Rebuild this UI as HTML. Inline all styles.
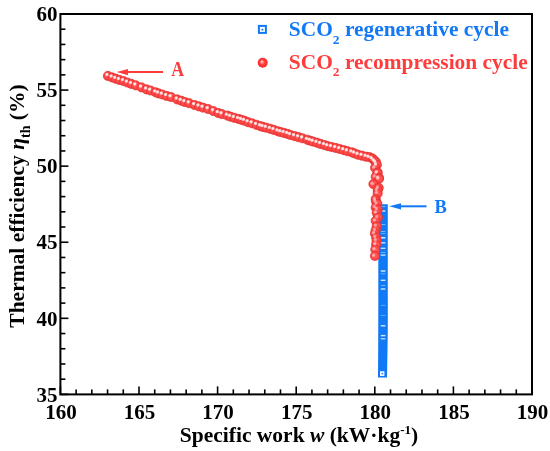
<!DOCTYPE html>
<html><head><meta charset="utf-8"><style>
html,body{margin:0;padding:0;background:#fff;}
svg{display:block;}
text{font-family:"Liberation Serif","Times New Roman",serif;font-weight:bold;}
</style></head><body>
<svg width="550" height="451" viewBox="0 0 550 451">
<defs>
<radialGradient id="rg" cx="0.5" cy="0.5" r="0.5">
<stop offset="0" stop-color="#ff6060"/>
<stop offset="0.7" stop-color="#ff4a4a"/>
<stop offset="0.88" stop-color="#f83e3e"/>
<stop offset="1" stop-color="#e23232"/>
</radialGradient>
<radialGradient id="hg" cx="0.5" cy="0.5" r="0.5">
<stop offset="0" stop-color="#fff" stop-opacity="0.95"/>
<stop offset="0.5" stop-color="#fff" stop-opacity="0.75"/>
<stop offset="1" stop-color="#fff" stop-opacity="0"/>
</radialGradient>
<radialGradient id="lg" cx="0.5" cy="0.5" r="0.5" fx="0.4" fy="0.38">
<stop offset="0" stop-color="#ffe0e0"/>
<stop offset="0.25" stop-color="#ff8a8a"/>
<stop offset="0.5" stop-color="#ff3c3c"/>
<stop offset="1" stop-color="#f02c2c"/>
</radialGradient>
<g id="rc"><circle cx="0" cy="0" r="4.6" fill="url(#rg)" stroke="#e83434" stroke-width="0.7"/></g>
<g id="hc"><circle cx="0" cy="0" r="2.2" fill="url(#hg)"/></g>
</defs>
<rect width="550" height="451" fill="#fff"/>
<!-- blue column -->
<polygon points="378.3,204.3 387.8,204.3 387.8,330 387.5,350 387,377.6 378,377.6 378.2,345 378.3,300" fill="#1279f6"/>
<rect x="380.8" y="206.10" width="4.6" height="1.0" fill="#fff" opacity="0.45"/>
<rect x="380.8" y="210.30" width="4.6" height="1.4" fill="#fff" opacity="0.8"/>
<rect x="380.8" y="224.10" width="4.6" height="1.0" fill="#fff" opacity="0.45"/>
<rect x="380.8" y="231.00" width="4.6" height="1.0" fill="#fff" opacity="0.45"/>
<rect x="380.8" y="233.20" width="4.6" height="0.8" fill="#fff" opacity="0.45"/>
<rect x="380.8" y="237.00" width="4.6" height="1.6" fill="#fff" opacity="0.8"/>
<rect x="380.8" y="242.10" width="4.6" height="1.4" fill="#fff" opacity="0.8"/>
<rect x="380.8" y="247.65" width="4.6" height="1.3" fill="#fff" opacity="0.8"/>
<rect x="380.8" y="252.05" width="4.6" height="0.9" fill="#fff" opacity="0.45"/>
<rect x="380.8" y="254.45" width="4.6" height="1.3" fill="#fff" opacity="0.8"/>
<rect x="380.8" y="270.25" width="4.6" height="1.5" fill="#fff" opacity="0.8"/>
<rect x="380.8" y="273.35" width="4.6" height="0.9" fill="#fff" opacity="0.45"/>
<rect x="380.8" y="279.60" width="4.6" height="1.4" fill="#fff" opacity="0.8"/>
<rect x="380.8" y="285.05" width="4.6" height="0.9" fill="#fff" opacity="0.45"/>
<rect x="380.8" y="288.30" width="4.6" height="1.4" fill="#fff" opacity="0.8"/>
<rect x="380.8" y="304.95" width="4.6" height="0.7" fill="#fff" opacity="0.45"/>
<rect x="380.8" y="315.25" width="4.6" height="0.7" fill="#fff" opacity="0.45"/>
<rect x="380.8" y="325.10" width="4.6" height="1.4" fill="#fff" opacity="0.8"/>
<rect x="380.8" y="334.90" width="4.6" height="1.4" fill="#fff" opacity="0.8"/>
<rect x="380.8" y="338.20" width="4.6" height="1.2" fill="#fff" opacity="0.8"/>
<rect x="380" y="371.3" width="4.4" height="4.6" fill="#fff"/>
<rect x="381.5" y="372.9" width="1.7" height="1.4" fill="#1279f6"/>
<!-- red -->
<use href="#rc" x="107.9" y="75.9"/>
<use href="#rc" x="112.1" y="77.4"/>
<use href="#rc" x="115.7" y="78.7"/>
<use href="#rc" x="119.4" y="79.9"/>
<use href="#rc" x="123.4" y="81.0"/>
<use href="#rc" x="127.4" y="82.5"/>
<use href="#rc" x="131.4" y="83.9"/>
<use href="#rc" x="135.7" y="85.3"/>
<use href="#rc" x="141.5" y="87.4"/>
<use href="#rc" x="146.6" y="89.4"/>
<use href="#rc" x="150.6" y="90.5"/>
<use href="#rc" x="155.7" y="92.3"/>
<use href="#rc" x="158.6" y="93.4"/>
<use href="#rc" x="162.3" y="94.5"/>
<use href="#rc" x="166.6" y="95.9"/>
<use href="#rc" x="171.0" y="97.0"/>
<use href="#rc" x="177.2" y="99.4"/>
<use href="#rc" x="181.2" y="100.7"/>
<use href="#rc" x="184.8" y="102.0"/>
<use href="#rc" x="189.2" y="103.2"/>
<use href="#rc" x="194.6" y="105.0"/>
<use href="#rc" x="199.0" y="106.4"/>
<use href="#rc" x="203.0" y="107.6"/>
<use href="#rc" x="208.1" y="109.0"/>
<use href="#rc" x="213.4" y="111.1"/>
<use href="#rc" x="218.3" y="113.0"/>
<use href="#rc" x="221.9" y="114.1"/>
<use href="#rc" x="227.4" y="115.6"/>
<use href="#rc" x="230.6" y="116.7"/>
<use href="#rc" x="234.3" y="117.8"/>
<use href="#rc" x="238.6" y="118.9"/>
<use href="#rc" x="241.5" y="119.8"/>
<use href="#rc" x="244.5" y="120.7"/>
<use href="#rc" x="248.1" y="122.2"/>
<use href="#rc" x="252.1" y="123.3"/>
<use href="#rc" x="256.5" y="124.8"/>
<use href="#rc" x="260.5" y="126.2"/>
<use href="#rc" x="263.0" y="126.9"/>
<use href="#rc" x="266.3" y="127.7"/>
<use href="#rc" x="270.3" y="128.8"/>
<use href="#rc" x="273.9" y="129.9"/>
<use href="#rc" x="277.9" y="131.3"/>
<use href="#rc" x="280.8" y="132.1"/>
<use href="#rc" x="284.1" y="132.9"/>
<use href="#rc" x="287.7" y="133.9"/>
<use href="#rc" x="290.6" y="135.0"/>
<use href="#rc" x="294.6" y="136.1"/>
<use href="#rc" x="298.6" y="137.2"/>
<use href="#rc" x="302.6" y="138.3"/>
<use href="#rc" x="307.4" y="139.8"/>
<use href="#rc" x="310.3" y="140.7"/>
<use href="#rc" x="313.2" y="141.6"/>
<use href="#rc" x="317.0" y="142.7"/>
<use href="#rc" x="320.6" y="143.9"/>
<use href="#rc" x="324.5" y="145.0"/>
<use href="#rc" x="327.7" y="146.1"/>
<use href="#rc" x="331.4" y="146.9"/>
<use href="#rc" x="335.7" y="147.9"/>
<use href="#rc" x="339.7" y="149.0"/>
<use href="#rc" x="343.7" y="150.1"/>
<use href="#rc" x="347.4" y="151.2"/>
<use href="#rc" x="351.7" y="152.3"/>
<use href="#rc" x="354.6" y="153.4"/>
<use href="#rc" x="358.0" y="154.7"/>
<use href="#rc" x="362.0" y="155.7"/>
<use href="#rc" x="366.0" y="156.7"/>
<use href="#rc" x="369.4" y="157.1"/>
<use href="#rc" x="372.4" y="158.4"/>
<use href="#rc" x="374.4" y="160.4"/>
<use href="#rc" x="376.0" y="162.1"/>
<use href="#rc" x="376.9" y="164.8"/>
<use href="#rc" x="375.0" y="167.8"/>
<use href="#rc" x="377.7" y="172.4"/>
<use href="#rc" x="377.4" y="173.1"/>
<use href="#rc" x="375.7" y="176.8"/>
<use href="#rc" x="379.0" y="177.8"/>
<use href="#rc" x="379.0" y="178.8"/>
<use href="#rc" x="373.4" y="184.1"/>
<use href="#rc" x="378.7" y="187.8"/>
<use href="#rc" x="377.7" y="190.3"/>
<use href="#rc" x="377.7" y="193.4"/>
<use href="#rc" x="375.7" y="199.1"/>
<use href="#rc" x="376.0" y="201.4"/>
<use href="#rc" x="377.4" y="203.8"/>
<use href="#rc" x="375.7" y="207.4"/>
<use href="#rc" x="377.7" y="209.4"/>
<use href="#rc" x="376.7" y="212.8"/>
<use href="#rc" x="378.0" y="217.4"/>
<use href="#rc" x="375.7" y="220.8"/>
<use href="#rc" x="376.7" y="226.1"/>
<use href="#rc" x="375.7" y="230.2"/>
<use href="#rc" x="374.9" y="233.5"/>
<use href="#rc" x="376.1" y="237.3"/>
<use href="#rc" x="376.6" y="240.7"/>
<use href="#rc" x="376.1" y="244.5"/>
<use href="#rc" x="375.3" y="249.5"/>
<use href="#rc" x="374.9" y="255.9"/>
<use href="#hc" x="106.9" y="74.5"/>
<use href="#hc" x="111.1" y="76.0"/>
<use href="#hc" x="114.7" y="77.3"/>
<use href="#hc" x="118.4" y="78.5"/>
<use href="#hc" x="122.4" y="79.6"/>
<use href="#hc" x="126.4" y="81.1"/>
<use href="#hc" x="130.4" y="82.5"/>
<use href="#hc" x="134.7" y="83.9"/>
<use href="#hc" x="140.5" y="86.0"/>
<use href="#hc" x="145.6" y="88.0"/>
<use href="#hc" x="149.6" y="89.1"/>
<use href="#hc" x="154.7" y="90.9"/>
<use href="#hc" x="157.6" y="92.0"/>
<use href="#hc" x="161.3" y="93.1"/>
<use href="#hc" x="165.6" y="94.5"/>
<use href="#hc" x="170.0" y="95.6"/>
<use href="#hc" x="176.2" y="98.0"/>
<use href="#hc" x="180.2" y="99.3"/>
<use href="#hc" x="183.8" y="100.6"/>
<use href="#hc" x="188.2" y="101.8"/>
<use href="#hc" x="193.6" y="103.6"/>
<use href="#hc" x="198.0" y="105.0"/>
<use href="#hc" x="202.0" y="106.2"/>
<use href="#hc" x="207.1" y="107.6"/>
<use href="#hc" x="212.4" y="109.7"/>
<use href="#hc" x="217.3" y="111.6"/>
<use href="#hc" x="220.9" y="112.7"/>
<use href="#hc" x="226.4" y="114.2"/>
<use href="#hc" x="229.6" y="115.3"/>
<use href="#hc" x="233.3" y="116.4"/>
<use href="#hc" x="237.6" y="117.5"/>
<use href="#hc" x="240.5" y="118.4"/>
<use href="#hc" x="243.5" y="119.3"/>
<use href="#hc" x="247.1" y="120.8"/>
<use href="#hc" x="251.1" y="121.9"/>
<use href="#hc" x="255.5" y="123.4"/>
<use href="#hc" x="259.5" y="124.8"/>
<use href="#hc" x="262.0" y="125.5"/>
<use href="#hc" x="265.3" y="126.3"/>
<use href="#hc" x="269.3" y="127.4"/>
<use href="#hc" x="272.9" y="128.5"/>
<use href="#hc" x="276.9" y="129.9"/>
<use href="#hc" x="279.8" y="130.7"/>
<use href="#hc" x="283.1" y="131.5"/>
<use href="#hc" x="286.7" y="132.5"/>
<use href="#hc" x="289.6" y="133.6"/>
<use href="#hc" x="293.6" y="134.7"/>
<use href="#hc" x="297.6" y="135.8"/>
<use href="#hc" x="301.6" y="136.9"/>
<use href="#hc" x="306.4" y="138.4"/>
<use href="#hc" x="309.3" y="139.3"/>
<use href="#hc" x="312.2" y="140.2"/>
<use href="#hc" x="316.0" y="141.3"/>
<use href="#hc" x="319.6" y="142.5"/>
<use href="#hc" x="323.5" y="143.6"/>
<use href="#hc" x="326.7" y="144.7"/>
<use href="#hc" x="330.4" y="145.5"/>
<use href="#hc" x="334.7" y="146.5"/>
<use href="#hc" x="338.7" y="147.6"/>
<use href="#hc" x="342.7" y="148.7"/>
<use href="#hc" x="346.4" y="149.8"/>
<use href="#hc" x="350.7" y="150.9"/>
<use href="#hc" x="353.6" y="152.0"/>
<use href="#hc" x="357.0" y="153.3"/>
<use href="#hc" x="361.0" y="154.3"/>
<use href="#hc" x="365.0" y="155.3"/>
<use href="#hc" x="368.0" y="156.3"/>
<use href="#hc" x="371.0" y="157.6"/>
<use href="#hc" x="373.0" y="159.6"/>
<use href="#hc" x="374.6" y="161.3"/>
<use href="#hc" x="375.5" y="164.0"/>
<use href="#hc" x="373.6" y="167.0" opacity="0.6"/>
<use href="#hc" x="376.3" y="171.6" opacity="0.6"/>
<use href="#hc" x="376.0" y="172.3" opacity="0.6"/>
<use href="#hc" x="374.3" y="176.0" opacity="0.6"/>
<use href="#hc" x="377.6" y="177.0" opacity="0.6"/>
<use href="#hc" x="377.6" y="178.0" opacity="0.6"/>
<use href="#hc" x="372.0" y="183.3" opacity="0.6"/>
<use href="#hc" x="377.3" y="187.0" opacity="0.6"/>
<use href="#hc" x="376.3" y="189.5" opacity="0.6"/>
<use href="#hc" x="376.3" y="192.6" opacity="0.6"/>
<use href="#hc" x="374.3" y="198.3" opacity="0.6"/>
<use href="#hc" x="374.6" y="200.6" opacity="0.6"/>
<use href="#hc" x="376.0" y="203.0" opacity="0.6"/>
<use href="#hc" x="374.3" y="206.6" opacity="0.6"/>
<use href="#hc" x="376.3" y="208.6" opacity="0.6"/>
<use href="#hc" x="375.3" y="212.0" opacity="0.6"/>
<use href="#hc" x="376.6" y="216.6" opacity="0.6"/>
<use href="#hc" x="374.3" y="220.0" opacity="0.6"/>
<use href="#hc" x="375.3" y="225.3" opacity="0.6"/>
<use href="#hc" x="374.3" y="229.4" opacity="0.6"/>
<use href="#hc" x="373.5" y="232.7" opacity="0.6"/>
<use href="#hc" x="374.7" y="236.5" opacity="0.6"/>
<use href="#hc" x="375.2" y="239.9" opacity="0.6"/>
<use href="#hc" x="374.7" y="243.7" opacity="0.6"/>
<use href="#hc" x="373.9" y="248.7" opacity="0.6"/>
<use href="#hc" x="373.5" y="255.1" opacity="0.6"/>
<!-- frame -->
<rect x="60.4" y="14.0" width="471.6" height="380.4" fill="none" stroke="#000" stroke-width="2"/>
<g stroke="#000" stroke-width="1.6">
<line x1="60.40" y1="394.4" x2="60.40" y2="386.4"/>
<line x1="76.12" y1="394.4" x2="76.12" y2="389.4"/>
<line x1="91.84" y1="394.4" x2="91.84" y2="389.4"/>
<line x1="107.56" y1="394.4" x2="107.56" y2="389.4"/>
<line x1="123.28" y1="394.4" x2="123.28" y2="389.4"/>
<line x1="139.00" y1="394.4" x2="139.00" y2="386.4"/>
<line x1="154.72" y1="394.4" x2="154.72" y2="389.4"/>
<line x1="170.44" y1="394.4" x2="170.44" y2="389.4"/>
<line x1="186.16" y1="394.4" x2="186.16" y2="389.4"/>
<line x1="201.88" y1="394.4" x2="201.88" y2="389.4"/>
<line x1="217.60" y1="394.4" x2="217.60" y2="386.4"/>
<line x1="233.32" y1="394.4" x2="233.32" y2="389.4"/>
<line x1="249.04" y1="394.4" x2="249.04" y2="389.4"/>
<line x1="264.76" y1="394.4" x2="264.76" y2="389.4"/>
<line x1="280.48" y1="394.4" x2="280.48" y2="389.4"/>
<line x1="296.20" y1="394.4" x2="296.20" y2="386.4"/>
<line x1="311.92" y1="394.4" x2="311.92" y2="389.4"/>
<line x1="327.64" y1="394.4" x2="327.64" y2="389.4"/>
<line x1="343.36" y1="394.4" x2="343.36" y2="389.4"/>
<line x1="359.08" y1="394.4" x2="359.08" y2="389.4"/>
<line x1="374.80" y1="394.4" x2="374.80" y2="386.4"/>
<line x1="390.52" y1="394.4" x2="390.52" y2="389.4"/>
<line x1="406.24" y1="394.4" x2="406.24" y2="389.4"/>
<line x1="421.96" y1="394.4" x2="421.96" y2="389.4"/>
<line x1="437.68" y1="394.4" x2="437.68" y2="389.4"/>
<line x1="453.40" y1="394.4" x2="453.40" y2="386.4"/>
<line x1="469.12" y1="394.4" x2="469.12" y2="389.4"/>
<line x1="484.84" y1="394.4" x2="484.84" y2="389.4"/>
<line x1="500.56" y1="394.4" x2="500.56" y2="389.4"/>
<line x1="516.28" y1="394.4" x2="516.28" y2="389.4"/>
<line x1="532.00" y1="394.4" x2="532.00" y2="386.4"/>
<line x1="60.4" y1="394.40" x2="68.4" y2="394.40"/>
<line x1="60.4" y1="379.18" x2="65.4" y2="379.18"/>
<line x1="60.4" y1="363.97" x2="65.4" y2="363.97"/>
<line x1="60.4" y1="348.75" x2="65.4" y2="348.75"/>
<line x1="60.4" y1="333.54" x2="65.4" y2="333.54"/>
<line x1="60.4" y1="318.32" x2="68.4" y2="318.32"/>
<line x1="60.4" y1="303.10" x2="65.4" y2="303.10"/>
<line x1="60.4" y1="287.89" x2="65.4" y2="287.89"/>
<line x1="60.4" y1="272.67" x2="65.4" y2="272.67"/>
<line x1="60.4" y1="257.46" x2="65.4" y2="257.46"/>
<line x1="60.4" y1="242.24" x2="68.4" y2="242.24"/>
<line x1="60.4" y1="227.02" x2="65.4" y2="227.02"/>
<line x1="60.4" y1="211.81" x2="65.4" y2="211.81"/>
<line x1="60.4" y1="196.59" x2="65.4" y2="196.59"/>
<line x1="60.4" y1="181.38" x2="65.4" y2="181.38"/>
<line x1="60.4" y1="166.16" x2="68.4" y2="166.16"/>
<line x1="60.4" y1="150.94" x2="65.4" y2="150.94"/>
<line x1="60.4" y1="135.73" x2="65.4" y2="135.73"/>
<line x1="60.4" y1="120.51" x2="65.4" y2="120.51"/>
<line x1="60.4" y1="105.30" x2="65.4" y2="105.30"/>
<line x1="60.4" y1="90.08" x2="68.4" y2="90.08"/>
<line x1="60.4" y1="74.86" x2="65.4" y2="74.86"/>
<line x1="60.4" y1="59.65" x2="65.4" y2="59.65"/>
<line x1="60.4" y1="44.43" x2="65.4" y2="44.43"/>
<line x1="60.4" y1="29.22" x2="65.4" y2="29.22"/>
<line x1="60.4" y1="14.00" x2="68.4" y2="14.00"/>
</g>
<g font-size="21" fill="#000">
<text x="60.90" y="419.3" text-anchor="middle">160</text>
<text x="139.50" y="419.3" text-anchor="middle">165</text>
<text x="218.10" y="419.3" text-anchor="middle">170</text>
<text x="296.70" y="419.3" text-anchor="middle">175</text>
<text x="375.30" y="419.3" text-anchor="middle">180</text>
<text x="453.90" y="419.3" text-anchor="middle">185</text>
<text x="532.50" y="419.3" text-anchor="middle">190</text>
<text x="57.4" y="401.60" text-anchor="end">35</text>
<text x="57.4" y="325.52" text-anchor="end">40</text>
<text x="57.4" y="249.44" text-anchor="end">45</text>
<text x="57.4" y="173.36" text-anchor="end">50</text>
<text x="57.4" y="97.28" text-anchor="end">55</text>
<text x="57.4" y="21.20" text-anchor="end">60</text>
</g>
<text x="179.8" y="441.7" font-size="21.5" fill="#000">Specific work <tspan font-style="italic">w</tspan> (kW·kg<tspan font-size="13" dy="-8">-1</tspan><tspan dy="8">)</tspan></text>
<text transform="translate(23.5,327.7) rotate(-90)" font-size="21.5" fill="#000">Thermal efficiency <tspan font-style="italic">η</tspan><tspan font-size="14" dy="6.5">th</tspan><tspan dy="-6.5"> (%)</tspan></text>
<!-- legend -->
<rect x="258.9" y="25.9" width="7" height="7" fill="none" stroke="#1279f6" stroke-width="2"/>
<rect x="261.4" y="28.9" width="2" height="1.6" fill="#1279f6"/>
<circle cx="262.7" cy="62.8" r="5" fill="url(#lg)"/>
<text x="288.8" y="36.3" font-size="21.4" fill="#1279f6">SCO<tspan font-size="13.5" dy="7.3">2</tspan><tspan dy="-7.3"> regenerative cycle</tspan></text>
<text x="288.8" y="68.9" font-size="21.4" fill="#ff3c3c">SCO<tspan font-size="13.5" dy="7.3">2</tspan><tspan dy="-7.3"> recompression cycle</tspan></text>
<!-- arrows -->
<line x1="126" y1="72.1" x2="163" y2="72.1" stroke="#ff3c3c" stroke-width="2"/>
<polygon points="116.6,71.9 128,68.9 128,75.2" fill="#ff3c3c"/>
<text transform="translate(171.2,75.8) scale(0.91,1.04)" font-size="19.5" fill="#ff3c3c">A</text>
<line x1="399" y1="206.3" x2="426.5" y2="206.3" stroke="#1279f6" stroke-width="2"/>
<polygon points="389.2,206.3 401,203.2 401,209.4" fill="#1279f6"/>
<text transform="translate(434.6,212.6) scale(0.95,1.02)" font-size="19.5" fill="#1279f6">B</text>
</svg>
</body></html>
